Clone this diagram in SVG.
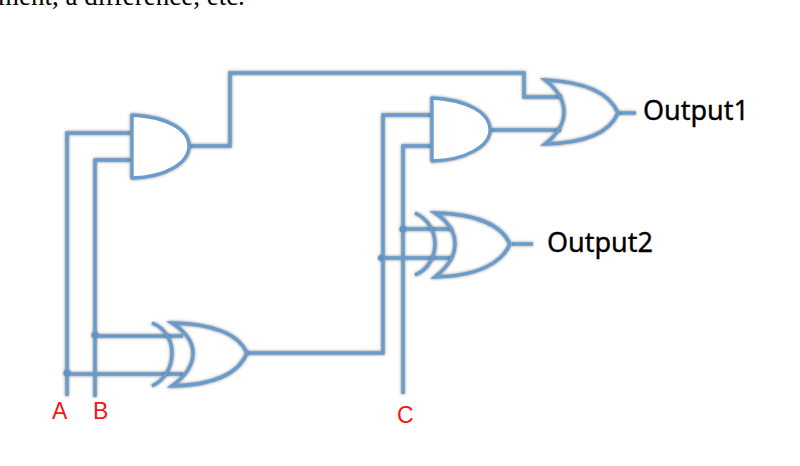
<svg xmlns="http://www.w3.org/2000/svg" width="800" height="466" viewBox="0 0 800 466">
<style>
.w{fill:none;stroke:#6a9ccb;stroke-width:3.4;stroke-linejoin:miter}
.g{fill:#fff;stroke:#6a9ccb;stroke-width:3.4;stroke-linejoin:round}
.d{fill:#5f95c6}
.l{font-family:"Noto Sans","Open Sans",sans-serif;font-size:27px;fill:#000;stroke:#000;stroke-width:0.35}
.r{font-family:"Liberation Sans",sans-serif;font-size:23px;fill:#f01818}
</style>
<defs>
<filter id="s" x="-10%" y="-10%" width="120%" height="120%"><feDropShadow dx="0" dy="0" stdDeviation="1.8" flood-color="#444" flood-opacity="0.7"/></filter>
</defs>
<text x="-2" y="5" style="font-family:'Liberation Serif',serif;font-size:27px;fill:#000">ment, a difference, etc.</text>
<g id="connectors" filter="url(#s)">
<path class="w" d="M67 396V133H131"/>
<path class="w" d="M95 397V160H131"/>
<path class="w" d="M189 146H230V73H524V97H562"/>
<path class="w" d="M490 130H561"/>
<path class="w" d="M618 113H636"/>
<path class="w" d="M247 353H383V115H432"/>
<path class="w" d="M403 394V146H432"/>
<path class="w" d="M403 229H452"/>
<path class="w" d="M381 258H452"/>
<path class="w" d="M512 244H533"/>
<path class="w" d="M95 336H183"/>
<path class="w" d="M67 374H183"/>
<circle class="d" cx="95" cy="335" r="3.5"/>
<circle class="d" cx="67" cy="373" r="3.5"/>
<circle class="d" cx="403" cy="229" r="3.5"/>
<circle class="d" cx="381" cy="258" r="3"/>
</g>
<g id="and1" filter="url(#s)"><path class="g" d="M132 115C168 117 189 130 189 146C189 163 166 177 132 178Z"/></g>
<g id="and2" filter="url(#s)"><path class="g" d="M432 98C468 100 490 113 490 130C490 146 466 160 432 161Z"/></g>
<g id="or1" filter="url(#s)"><path class="w" d="M545 80C588 82 610 94 618 113C610 132 588 143 545 144C558 134 564 124 564 112C564 100 558 90 545 80Z"/></g>
<g id="or2" filter="url(#s)">
<path class="w" d="M435 213C478 214 502 226 510 244C502 263 478 276 435 277C449 266 455 255 455 244C455 232 449 222 435 213Z"/>
<path class="w" d="M415 213C428 219 435 231 435 244C435 257 428 270 415 275"/>
</g>
<g id="or3" filter="url(#s)">
<path class="w" d="M172 323C215 324 239 335 247 353C239 373 215 385 172 386C186 376 193 365 193 353C193 342 186 332 172 323Z"/>
<path class="w" d="M152 323C165 328 172 340 172 353C172 367 165 380 152 386"/>
</g>
<g id="labels">
<text class="l" x="643" y="120">Output1</text>
<text class="l" x="547" y="252">Output2</text>
<text class="r" x="52" y="419">A</text>
<text class="r" x="93" y="419">B</text>
<text class="r" x="397" y="423">C</text>
</g>
</svg>
